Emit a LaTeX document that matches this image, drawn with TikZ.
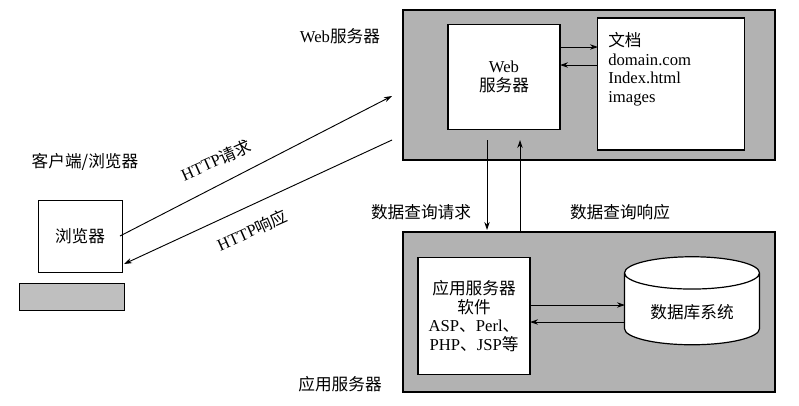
\documentclass[tikz,border=0pt]{standalone}
\usepackage{fontspec}
\setmainfont{Liberation Serif}
\newfontfamily\cjk{Noto Sans CJK SC}
\usetikzlibrary{shapes.geometric,arrows.meta}
\begin{document}
\begin{tikzpicture}[x=0.75pt,y=-0.75pt,
  gbox/.style={draw,line width=0.9pt,fill=gray!60},
  wbox/.style={draw,line width=0.9pt,fill=white},
  lbl/.style={font=\fontsize{12.5}{14}\selectfont},
  arr/.style={-{Stealth[length=6pt,width=4pt]},line width=0.7pt}]
\useasboundingbox (0,0) rectangle (799,405);
% web server
\node[gbox,minimum width=372*0.75pt,minimum height=150*0.75pt] (ws) at (589,85) {};
\node[wbox,minimum width=112*0.75pt,minimum height=105*0.75pt,align=center,lbl] (web) at (504,77) {Web\\{\cjk 服务器}};
\node[wbox,minimum width=147*0.75pt,minimum height=132*0.75pt] (doc) at (671,84) {};
\node[lbl,align=left,anchor=north west,inner sep=0pt] (doctxt) at (608,32) {{\cjk 文档}\\domain.com\\Index.html\\images};
\coordinate (w1) at (560,47); \coordinate (d1) at (598,47);
\coordinate (w2) at (560,65); \coordinate (d2) at (598,65);
\draw[arr] (w1) -- (d1);
\draw[arr] (d2) -- (w2);
\node[lbl] (wslbl) at (340,36) {Web{\cjk 服务器}};
% app server
\node[gbox,minimum width=372*0.75pt,minimum height=160*0.75pt] (as) at (589,312) {};
\node[wbox,minimum width=112*0.75pt,minimum height=117*0.75pt] (app) at (474,316) {};
\node[lbl,align=center,inner sep=0pt] (apptxt) at (474,316) {{\cjk 应用服务器}\\{\cjk 软件}\\ASP{\cjk 、}Perl{\cjk 、}\\PHP{\cjk 、}JSP{\cjk 等}};
\node[cylinder,shape border rotate=90,draw,line width=0.9pt,fill=white,aspect=0.35,minimum width=135*0.75pt,minimum height=88*0.75pt,lbl] (db) at (692,312) {{\cjk 数据库系统}};
\coordinate (a1) at (530,305); \coordinate (b1) at (625,305);
\coordinate (a2) at (530,322); \coordinate (b2) at (625,322);
\draw[arr] (a1) -- (b1);
\draw[arr] (b2) -- (a2);
\node[lbl] (aslbl) at (340,384) {\cjk 应用服务器};
% vertical arrows
\coordinate (v1) at (487,140); \coordinate (v2) at (487,230);
\coordinate (u1) at (520,232); \coordinate (u2) at (520,140);
\draw[arr] (v1) -- (v2);
\draw[arr] (u1) -- (u2);
\node[lbl] (q) at (421,212) {\cjk 数据查询请求};
\node[lbl] (r) at (620,212) {\cjk 数据查询响应};
% client
\node[wbox,line width=0.7pt,minimum width=84*0.75pt,minimum height=72*0.75pt,lbl] (br) at (80,236) {\cjk 浏览器};
\node[draw,line width=0.7pt,fill=gray!50,minimum width=105*0.75pt,minimum height=27*0.75pt] (kb) at (72,297) {};
\node[lbl] (cl) at (85,162) {\cjk 客户端/浏览器};
\coordinate (c1) at (120,236); \coordinate (s1) at (392,96);
\coordinate (s2) at (392,140); \coordinate (c2) at (124,264);
\draw[arr] (c1) -- (s1);
\draw[arr] (s2) -- (c2);
\node[lbl,rotate=24] (hq) at (216,160) {HTTP{\cjk 请求}};
\node[lbl,rotate=24] (hr) at (252,230) {HTTP{\cjk 响应}};
\end{tikzpicture}
\end{document}
